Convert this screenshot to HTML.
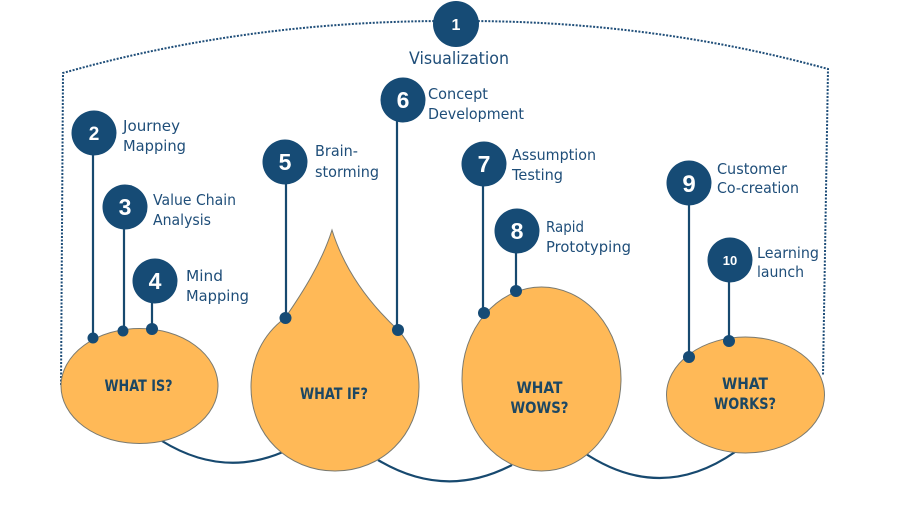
<!DOCTYPE html>
<html>
<head>
<meta charset="utf-8">
<style>
html,body{margin:0;padding:0;background:#fff;width:900px;height:506px;overflow:hidden}
svg{display:block}
text{font-family:"DejaVu Sans","Liberation Sans",sans-serif}
.l{font-size:15px;fill:#1f4e79}
.n{font-weight:bold;fill:#fff;text-anchor:middle;font-family:"Liberation Sans",sans-serif}
.h{font-weight:bold;font-size:16px;fill:#1c4763;text-anchor:middle}
</style>
</head>
<body>
<svg width="900" height="506" viewBox="0 0 900 506" xmlns="http://www.w3.org/2000/svg">
<path d="M61 385 L63 73 Q250 20 456 21 Q650 20 828 69 L823 375" fill="none" stroke="#1f4e79" stroke-width="2" stroke-dasharray="2 1.500"/>
<g fill="none" stroke="#17496f" stroke-width="2.200">
<path d="M162 441 Q222 478 283 452"/>
<path d="M378 460 Q445 500 512 465"/>
<path d="M583 452 Q660 504 735 452"/>
<path d="M93 133V338M124 207V331M152 281V329M286 162V318M397 100V330M483 164V313M516 231V291M689 183V357M729 260V341"/>
</g>
<g fill="#ffb957" stroke="#7a7a70" stroke-width="1">
<ellipse cx="139.500" cy="386" rx="78.500" ry="57.500"/>
<path d="M332 230 C322 262 303 292 285 318 C262 335 251 360 251 387 C251 435 288 471 335 471 C382 471 419 435 419 387 C419 362 411 344 398 330 C370 304 345 272 332 230 Z"/>
<ellipse cx="541.500" cy="379" rx="79.500" ry="92"/>
<ellipse cx="745.500" cy="395" rx="79" ry="58"/>
</g>
<g fill="#164b75">
<circle cx="456" cy="24" r="23"/>
<circle cx="94" cy="133" r="22.500"/>
<circle cx="125" cy="207" r="22.500"/>
<circle cx="155" cy="281" r="22.500"/>
<circle cx="285" cy="162" r="22.500"/>
<circle cx="403" cy="100" r="22.500"/>
<circle cx="484" cy="164" r="22.500"/>
<circle cx="517" cy="231" r="22.500"/>
<circle cx="689" cy="183" r="22.500"/>
<circle cx="730" cy="260" r="22.500"/>
<circle cx="93" cy="338" r="5.500"/>
<circle cx="123" cy="331" r="5.500"/>
<circle cx="152" cy="329" r="6"/>
<circle cx="285.500" cy="318" r="6"/>
<circle cx="398" cy="330" r="6"/>
<circle cx="484" cy="313" r="6"/>
<circle cx="516" cy="291" r="6"/>
<circle cx="689" cy="357" r="6"/>
<circle cx="729" cy="341" r="6"/>
</g>
<text class="n" x="456" y="30" font-size="16">1</text>
<text class="n" x="94" y="140" font-size="19">2</text>
<text class="n" x="125" y="215" font-size="23">3</text>
<text class="n" x="155" y="289" font-size="23">4</text>
<text class="n" x="285" y="170" font-size="23">5</text>
<text class="n" x="403" y="108" font-size="23">6</text>
<text class="n" x="484" y="172" font-size="23">7</text>
<text class="n" x="517" y="239" font-size="23">8</text>
<text class="n" x="689" y="192" font-size="24">9</text>
<text class="n" x="730" y="265" font-size="13">10</text>
<text class="l" x="409" y="64" style="font-size:17px" textLength="100" lengthAdjust="spacingAndGlyphs">Visualization</text>
<text class="l" x="123" y="131" textLength="57" lengthAdjust="spacingAndGlyphs">Journey</text>
<text class="l" x="123" y="151" textLength="63" lengthAdjust="spacingAndGlyphs">Mapping</text>
<text class="l" x="153" y="205" textLength="83" lengthAdjust="spacingAndGlyphs">Value Chain</text>
<text class="l" x="153" y="225" textLength="58" lengthAdjust="spacingAndGlyphs">Analysis</text>
<text class="l" x="186" y="281" textLength="37" lengthAdjust="spacingAndGlyphs">Mind</text>
<text class="l" x="186" y="301" textLength="63" lengthAdjust="spacingAndGlyphs">Mapping</text>
<text class="l" x="315" y="156" textLength="43" lengthAdjust="spacingAndGlyphs">Brain-</text>
<text class="l" x="315" y="177" textLength="64" lengthAdjust="spacingAndGlyphs">storming</text>
<text class="l" x="428" y="99" textLength="60" lengthAdjust="spacingAndGlyphs">Concept</text>
<text class="l" x="428" y="119" textLength="96" lengthAdjust="spacingAndGlyphs">Development</text>
<text class="l" x="512" y="160" textLength="84" lengthAdjust="spacingAndGlyphs">Assumption</text>
<text class="l" x="512" y="180" textLength="51" lengthAdjust="spacingAndGlyphs">Testing</text>
<text class="l" x="546" y="232" textLength="38" lengthAdjust="spacingAndGlyphs">Rapid</text>
<text class="l" x="546" y="252" textLength="85" lengthAdjust="spacingAndGlyphs">Prototyping</text>
<text class="l" x="717" y="174" textLength="70" lengthAdjust="spacingAndGlyphs">Customer</text>
<text class="l" x="717" y="193" textLength="82" lengthAdjust="spacingAndGlyphs">Co-creation</text>
<text class="l" x="757" y="258" textLength="62" lengthAdjust="spacingAndGlyphs">Learning</text>
<text class="l" x="757" y="277" textLength="47" lengthAdjust="spacingAndGlyphs">launch</text>
<text class="h" x="138.500" y="391" textLength="68" lengthAdjust="spacingAndGlyphs">WHAT IS?</text>
<text class="h" x="334" y="399" textLength="68" lengthAdjust="spacingAndGlyphs">WHAT IF?</text>
<text class="h" x="539.500" y="393" textLength="46" lengthAdjust="spacingAndGlyphs">WHAT</text>
<text class="h" x="539.500" y="413" textLength="58" lengthAdjust="spacingAndGlyphs">WOWS?</text>
<text class="h" x="745" y="389" textLength="46" lengthAdjust="spacingAndGlyphs">WHAT</text>
<text class="h" x="745" y="409" textLength="62" lengthAdjust="spacingAndGlyphs">WORKS?</text>
</svg>
</body>
</html>
